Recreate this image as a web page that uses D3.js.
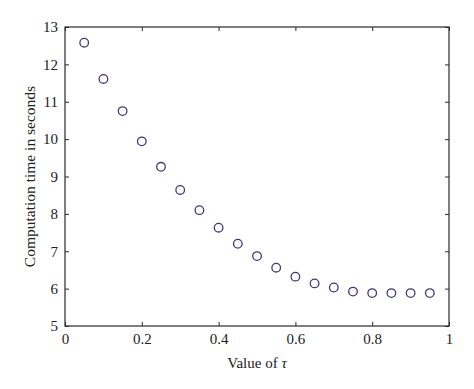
<!DOCTYPE html>
<html>
<head>
<meta charset="utf-8">
<script src="https://cdn.jsdelivr.net/npm/d3@7/dist/d3.min.js"></script>
<style>
  body { margin: 0; background: #fff; }
  svg { display: block; }
</style>
</head>
<body>
<svg width="474" height="389"></svg>
<script>
// data
var tauValues = [0.05, 0.10, 0.15, 0.20, 0.25, 0.30, 0.35, 0.40, 0.45, 0.50,
                 0.55, 0.60, 0.65, 0.70, 0.75, 0.80, 0.85, 0.90, 0.95];
var timeValues = [12.58, 11.61, 10.75, 9.94, 9.26, 8.64, 8.10, 7.63, 7.20, 6.87,
                  6.56, 6.32, 6.14, 6.03, 5.92, 5.88, 5.88, 5.88, 5.88];
var xTicks = [0, 0.2, 0.4, 0.6, 0.8, 1];
var yTicks = [5, 6, 7, 8, 9, 10, 11, 12, 13];

var svg = d3.select("svg"),
    width = +svg.attr("width"),
    height = +svg.attr("height");

var margin = {left: 65, top: 27, right: 25, bottom: 63};
var plotW = width - margin.left - margin.right,
    plotH = height - margin.top - margin.bottom;

var x = d3.scaleLinear().domain([0, 1]).range([0, plotW]);
var y = d3.scaleLinear().domain([5, 13]).range([plotH, 0]);

var g = svg.append("g").attr("transform", "translate(" + margin.left + "," + margin.top + ")");

var fontFam = "'Liberation Serif', 'Times New Roman', serif";
var axisCol = "#2a2a2a";

// axes: ticks pointing inward on all four sides (matlab box)
function styleAxis(sel) {
  sel.select(".domain").remove();
  sel.selectAll("line").attr("stroke", axisCol).attr("stroke-width", 1);
  sel.selectAll("text").style("font-family", fontFam).style("font-size", "15px").attr("fill", "#222");
}

g.append("g")
  .attr("transform", "translate(0," + plotH + ")")
  .call(d3.axisBottom(x).tickValues(xTicks).tickSize(-4).tickPadding(7).tickFormat(d3.format("")))
  .call(styleAxis);

g.append("g")
  .call(d3.axisTop(x).tickValues(xTicks).tickSize(-4).tickFormat(""))
  .call(styleAxis);

g.append("g")
  .call(d3.axisLeft(y).tickValues(yTicks).tickSize(-4).tickPadding(7).tickFormat(d3.format("d")))
  .call(styleAxis);

g.append("g")
  .attr("transform", "translate(" + plotW + ",0)")
  .call(d3.axisRight(y).tickValues(yTicks).tickSize(-4).tickFormat(""))
  .call(styleAxis);

// box
g.append("rect")
  .attr("x", 0).attr("y", 0)
  .attr("width", plotW).attr("height", plotH)
  .attr("fill", "none")
  .attr("stroke", axisCol)
  .attr("stroke-width", 1.2);

// markers
var pts = tauValues.map(function(t, i) { return {t: t, v: timeValues[i]}; });

g.append("g")
  .selectAll("circle")
  .data(pts)
  .enter().append("circle")
  .attr("cx", function(d) { return x(d.t); })
  .attr("cy", function(d) { return y(d.v); })
  .attr("r", 4.3)
  .attr("fill", "none")
  .attr("stroke", "#3b3b78")
  .attr("stroke-width", 1.3);

// axis labels
var xl = svg.append("text")
  .attr("x", margin.left + plotW / 2)
  .attr("y", 368)
  .attr("text-anchor", "middle")
  .style("font-family", fontFam)
  .style("font-size", "15px")
  .attr("fill", "#222");
xl.append("tspan").text("Value of ");
xl.append("tspan").style("font-style", "italic").text("τ");

svg.append("text")
  .attr("transform", "translate(35," + (margin.top + plotH / 2) + ") rotate(-90)")
  .attr("text-anchor", "middle")
  .style("font-family", fontFam)
  .style("font-size", "15.5px")
  .attr("fill", "#222")
  .text("Computation time in seconds");
</script>
</body>
</html>
